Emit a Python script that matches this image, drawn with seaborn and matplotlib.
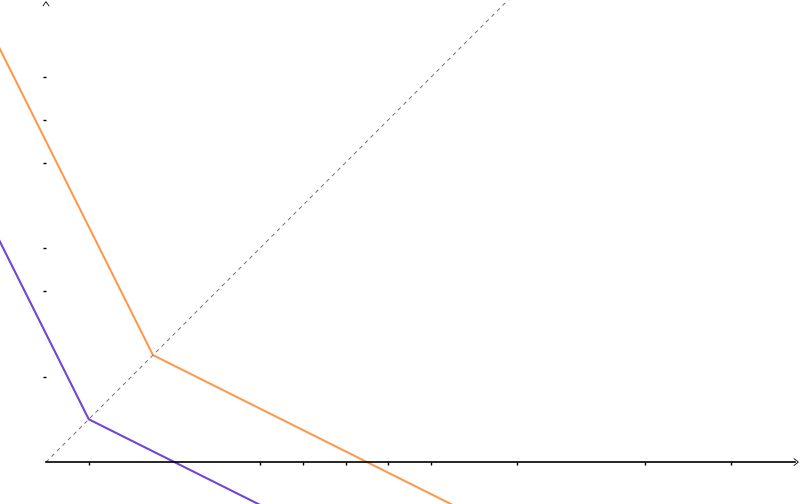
import numpy as np
import pandas as pd
import seaborn as sns
from matplotlib import pyplot as plt

# kinked curves (upper envelope of two lines each)
orange_x = [-1.2, 2.5, 10.0]
orange_y = [9.9, 2.5, -1.25]
purple_x = [-1.2, 1.0, 5.0]
purple_y = [5.4, 1.0, -1.0]
diag_x = [0.0, 11.0]
diag_y = [0.0, 11.0]

x_ticks = [1, 5, 6, 7, 8, 9, 11, 14, 16]
y_ticks = [2, 4, 5, 7, 8, 9]

ORANGE = "#ff9a4c"
PURPLE = "#7443d6"

sns.set_style("white")
fig = plt.figure(figsize=(8, 5.04), dpi=100)
ax = fig.add_axes([0, 0, 1, 1])

df = pd.concat([
    pd.DataFrame({"x": orange_x, "y": orange_y, "s": "orange"}),
    pd.DataFrame({"x": purple_x, "y": purple_y, "s": "purple"}),
])
sns.lineplot(data=df, x="x", y="y", hue="s", palette=[ORANGE, PURPLE],
             sort=False, estimator=None, lw=1.5, legend=False, ax=ax)
ax.plot(diag_x, diag_y, ls=(0, (4, 4)), color="#707070", lw=0.7)

ax.set_xlim(-1.075, 17.62)
ax.set_ylim(-0.98, 10.8)

for s in ["top", "right"]:
    ax.spines[s].set_visible(False)
ax.spines["left"].set_position(("data", 0))
ax.spines["left"].set_color("none")
ax.spines["bottom"].set_position(("data", 0))
ax.spines["bottom"].set_bounds(0, 17.5)
ax.spines["bottom"].set_linewidth(1.2)
ax.spines["bottom"].set_color("black")

ax.set_xticks(x_ticks)
ax.set_yticks(y_ticks)
ax.set_xticklabels([])
ax.set_yticklabels([])
ax.tick_params(axis="x", direction="out", length=2, width=1, color="black", bottom=True)
ax.tick_params(axis="y", direction="out", length=2, width=1, color="black", left=True)
ax.yaxis.set_ticks_position("left")
ax.set_xlabel("")
ax.set_ylabel("")

# arrow heads
ax.plot([17.48, 17.58, 17.48], [0.08, 0.0, -0.08], color="black", lw=0.6)
ax.plot([-0.07, 0.0, 0.07], [10.66, 10.76, 10.66], color="black", lw=0.6)

fig.savefig("out.png", dpi=100)
